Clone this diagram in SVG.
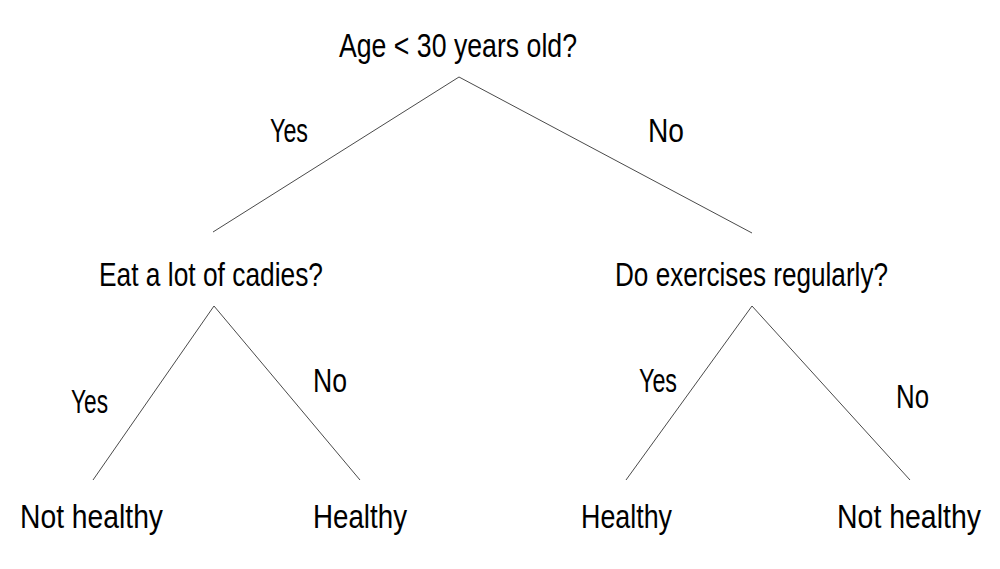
<svg xmlns="http://www.w3.org/2000/svg" width="1000" height="569" viewBox="0 0 1000 569">
  <style>
    text { font-family: "Liberation Sans", Arial, sans-serif; font-size: 34px; fill: #000; }
    .edge { stroke: #4a4a4a; stroke-width: 1; fill: none; }
  </style>
  <rect width="1000" height="569" fill="#fff"/>
  <g id="connectors">
    <polyline class="edge" points="213,232 459,77 752,233"/>
    <polyline class="edge" points="93,480 214,306 360,480"/>
    <polyline class="edge" points="626,480 752,306 910,480"/>
  </g>
  <g id="edge-labels">
    <text x="270" y="142" textLength="38" lengthAdjust="spacingAndGlyphs">Yes</text>
    <text x="648" y="142" textLength="36" lengthAdjust="spacingAndGlyphs">No</text>
    <text x="71" y="413" textLength="37" lengthAdjust="spacingAndGlyphs">Yes</text>
    <text x="313" y="392" textLength="34" lengthAdjust="spacingAndGlyphs">No</text>
    <text x="639" y="392" textLength="38" lengthAdjust="spacingAndGlyphs">Yes</text>
    <text x="896" y="408" textLength="33" lengthAdjust="spacingAndGlyphs">No</text>
  </g>
  <g id="node-root">
    <text x="339" y="57" textLength="238" lengthAdjust="spacingAndGlyphs">Age &lt; 30 years old?</text>
  </g>
  <g id="node-candies">
    <text x="99" y="286" textLength="224" lengthAdjust="spacingAndGlyphs">Eat a lot of cadies?</text>
  </g>
  <g id="node-exercise">
    <text x="615" y="286" textLength="273" lengthAdjust="spacingAndGlyphs">Do exercises regularly?</text>
  </g>
  <g id="leaf-1">
    <text x="20" y="528" textLength="143" lengthAdjust="spacingAndGlyphs">Not healthy</text>
  </g>
  <g id="leaf-2">
    <text x="313" y="528" textLength="94" lengthAdjust="spacingAndGlyphs">Healthy</text>
  </g>
  <g id="leaf-3">
    <text x="581" y="528" textLength="91" lengthAdjust="spacingAndGlyphs">Healthy</text>
  </g>
  <g id="leaf-4">
    <text x="837" y="528" textLength="144" lengthAdjust="spacingAndGlyphs">Not healthy</text>
  </g>
</svg>
